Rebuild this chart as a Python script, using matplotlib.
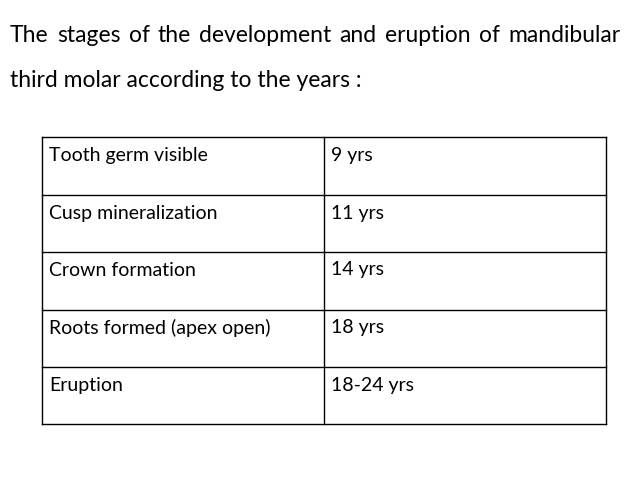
import matplotlib
matplotlib.use("Agg")
import matplotlib.pyplot as plt

title_lines = ["The stages of the development and eruption of mandibular",
               "third molar according to the years :"]
stages = ["Tooth germ visible", "Cusp mineralization", "Crown formation",
          "Roots formed (apex open)", "Eruption"]
ages = ["9 yrs", "11 yrs", "14 yrs", "18 yrs", "18-24 yrs"]

plt.rcParams['font.family'] = ['Lato', 'DejaVu Sans']
fig = plt.figure(figsize=(6.38, 4.78), dpi=100)
ax = fig.add_axes([0, 0, 1, 1])
ax.set_xlim(0, 638); ax.set_ylim(478, 0); ax.axis('off')

# justified first line
fig.canvas.draw()
r = fig.canvas.get_renderer()
words = title_lines[0].split()
objs = [ax.text(0, 35, w, fontsize=16.5, va='center', ha='left') for w in words]
widths = [o.get_window_extent(r).width for o in objs]
left, right = 10, 620
gap = (right - left - sum(widths)) / (len(words) - 1)
x = left
for o, w in zip(objs, widths):
    o.set_x(x)
    x += w + gap
ax.text(10, 80, title_lines[1], fontsize=16.5, va='center', ha='left')

x0, xm, x1 = 42, 324, 606
rows = [137, 195, 252, 310, 367, 424]
lw = 1.0
for y in rows:
    ax.plot([x0, x1], [y, y], color='black', lw=lw)
for xx in (x0, xm, x1):
    ax.plot([xx, xx], [rows[0], rows[-1]], color='black', lw=lw)
for i, (s, a) in enumerate(zip(stages, ages)):
    y = rows[i] + 18
    ax.text(x0 + 7, y, s, fontsize=14, va='center', ha='left')
    ax.text(xm + 7, y, a, fontsize=14, va='center', ha='left')

fig.savefig("out.png", dpi=100)
